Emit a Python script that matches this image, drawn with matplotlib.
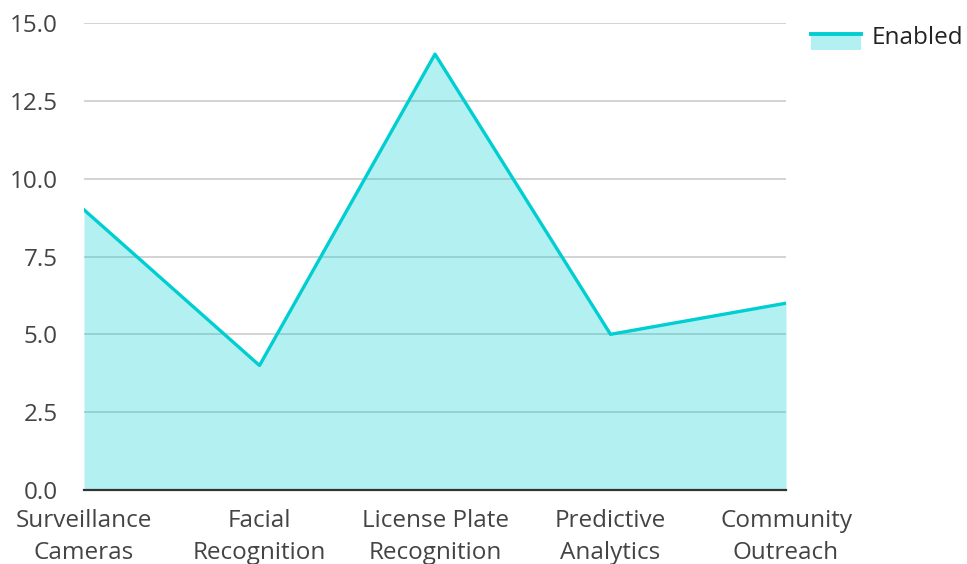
import matplotlib
matplotlib.use("Agg")
import matplotlib.pyplot as plt
from matplotlib.legend_handler import HandlerBase
from matplotlib.patches import Rectangle
from matplotlib.lines import Line2D

categories = ["Surveillance\nCameras", "Facial\nRecognition", "License Plate\nRecognition",
              "Predictive\nAnalytics", "Community\nOutreach"]
enabled = [9, 4, 14, 5, 6]
yticks = [0.0, 2.5, 5.0, 7.5, 10.0, 12.5, 15.0]

plt.rcParams['font.family'] = ['Open Sans', 'DejaVu Sans']
color = "#00CED1"
fs = 17.5

fig = plt.figure(figsize=(9.67, 5.64), dpi=100)
ax = fig.add_axes([84/967, 1-490/564, (786-84)/967, (490-23)/564])

x = list(range(len(categories)))
ax.fill_between(x, enabled, 0, color=color, alpha=0.3, linewidth=0, zorder=2)
ax.plot(x, enabled, color=color, linewidth=2.4, zorder=3)

ax.set_xlim(0, len(categories)-1)
ax.set_ylim(0, 15)
ax.set_yticks(yticks)
ax.set_yticklabels([f"{v:.1f}" for v in yticks])
ax.set_xticks(x)
ax.set_xticklabels(categories)
ax.grid(axis='y', color='#cccccc', linewidth=1.2, zorder=1)
ax.set_axisbelow(True)
for s in ['top', 'right', 'left']:
    ax.spines[s].set_visible(False)
ax.spines['bottom'].set_color('#333333')
ax.spines['bottom'].set_linewidth(1.6)
ax.tick_params(axis='both', length=0, labelsize=fs, colors='#444444')
ax.tick_params(axis='y', pad=19)
ax.tick_params(axis='x', pad=14)
for lbl in ax.get_xticklabels():
    lbl.set_linespacing(1.4)


class AreaHandler(HandlerBase):
    def create_artists(self, legend, orig_handle, xdescent, ydescent, width, height, fontsize, trans):
        off = -5.0
        r = Rectangle((-xdescent, -ydescent + off), width, height, facecolor=color, alpha=0.3,
                      edgecolor='none', transform=trans)
        l = Line2D([-xdescent, -xdescent + width], [-ydescent + height + off, -ydescent + height + off],
                   color=color, linewidth=2.8, transform=trans)
        return [r, l]


h = Rectangle((0, 0), 1, 1)
leg = fig.legend([h], ["Enabled"], handler_map={Rectangle: AreaHandler()},
                 loc='upper left', bbox_to_anchor=(811/967, 1-25.5/564), frameon=False,
                 borderpad=0, borderaxespad=0,
                 fontsize=fs, handlelength=2.05, handleheight=0.6, handletextpad=0.45,
                 labelcolor='#222222')

fig.savefig("out.png", dpi=100)
